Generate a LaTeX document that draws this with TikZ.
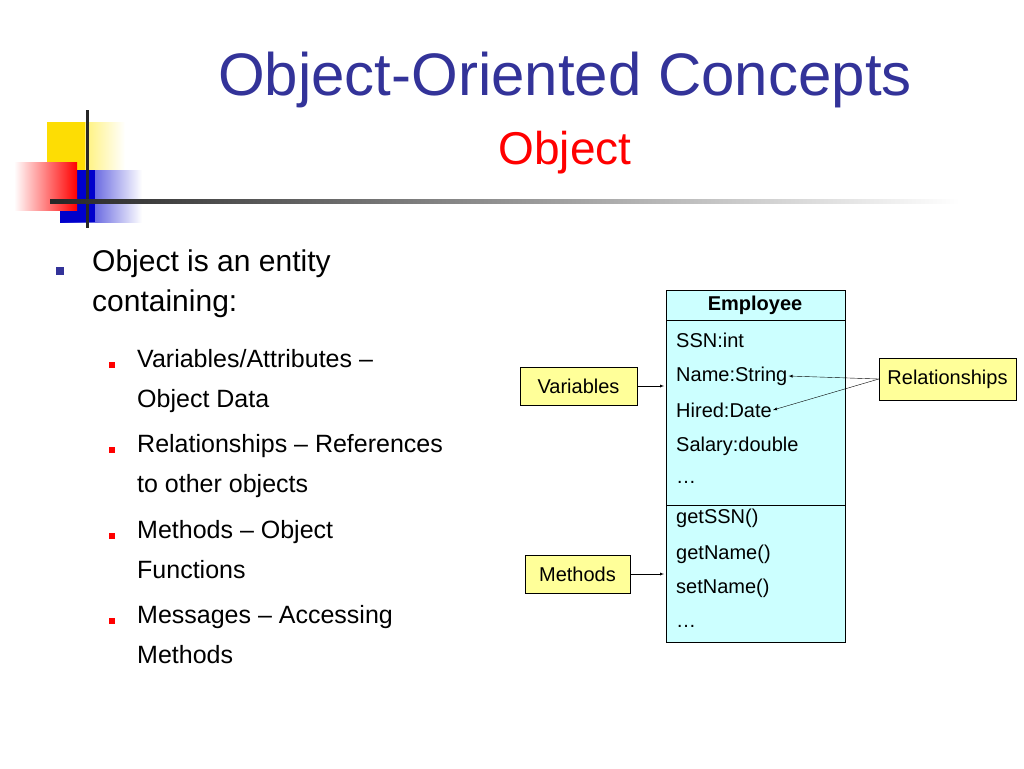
\documentclass[tikz,border=0pt]{standalone}
\usepackage{fontspec}
\setmainfont{Liberation Sans}
\definecolor{titleblue}{RGB}{51,51,153}
\definecolor{boxcyan}{RGB}{204,255,255}
\definecolor{noteyellow}{RGB}{255,255,153}
\begin{document}
\begin{tikzpicture}[x=1pt,y=-1pt,
    note/.style={draw, fill=noteyellow, font=\fontsize{20}{22}\selectfont, inner sep=0pt},
    row/.style={anchor=west, font=\fontsize{20}{22}\selectfont, inner sep=1pt},
    bul/.style={fill=titleblue, minimum size=8pt, inner sep=0pt},
    sbul/.style={fill=red, minimum size=6pt, inner sep=0pt},
    txt/.style={anchor=north west, align=left, font=\fontsize{30}{40}\selectfont, inner sep=0pt},
    stxt/.style={anchor=north west, align=left, font=\fontsize{25}{40}\selectfont, inner sep=0pt}]
    \useasboundingbox (0,0) rectangle (1024,768);
    
    % Logo
    \shade[left color=yellow!80!orange, right color=white] (47,122) rectangle (125,190);
    \fill[yellow!80!orange] (47,122) rectangle (85,190);
    \shade[left color=blue!80!black, right color=white] (60,170) rectangle (142,222);
    \fill[blue!80!black] (60,170) rectangle (95,222);
    \shade[left color=white, right color=red] (14,162) rectangle (77,210);
    \draw[line width=3pt, black!85] (87,110) -- (87,228);
    \shade[left color=black!85, right color=white] (50,199) rectangle (960,203);
    
    % Title
    \node[titleblue, font=\fontsize{60}{60}\selectfont] (title) at (565,80) {Object-Oriented Concepts};
    \node[red, font=\fontsize{46}{46}\selectfont] (sub) at (565,153) {Object};
    
    % Bullets
    \node[bul] (b1) at (60,271) {};
    \node[txt] (t1) at (92,250) {Object is an entity\\containing:};
    \foreach \y/\s [count=\i] in {365/{Variables/Attributes --\\Object Data},
                                  450/{Relationships -- References\\to other objects},
                                  536/{Methods -- Object\\Functions},
                                  621/{Messages -- Accessing\\Methods}} {
        \node[sbul] (sb\i) at (112,\y) {};
        \node[stxt] (st\i) at (137,\y-16) {\s};
    }
    
    % Class box
    \draw[fill=boxcyan] (666,290) rectangle (845,642);
    \draw (666,320) -- (845,320);
    \draw (666,505) -- (845,505);
    \node[font=\fontsize{20}{22}\selectfont\bfseries] (cls) at (755,305) {Employee};
    \node[row] (ssn) at (675,340) {SSN:int};
    \node[row] (name) at (675,376) {Name:String};
    \node[row] (hired) at (675,410) {Hired:Date};
    \node[row] (salary) at (675,446) {Salary:double};
    \node[row] (dots1) at (675,482) {\dots};
    \node[row] (getssn) at (675,518) {getSSN()};
    \node[row] (getname) at (675,554) {getName()};
    \node[row] (setname) at (675,588) {setName()};
    \node[row] (dots2) at (675,626) {\dots};
    
    % Notes
    \node[note, minimum width=117pt, minimum height=38pt] (vars) at (578.5,386) {Variables};
    \node[note, minimum width=105pt, minimum height=38pt] (meth) at (577.5,574) {Methods};
    \node[note, minimum width=137pt, minimum height=42pt] (rels) at (947.5,379) {Relationships};
    
    \draw[-latex] (vars) -- (664,386);
    \draw[-latex] (meth) -- (664,574);
    \draw[-latex] (rels.west) -- (name.east);
    \draw[-latex] (rels.west) -- (hired.east);
\end{tikzpicture}
\end{document}
